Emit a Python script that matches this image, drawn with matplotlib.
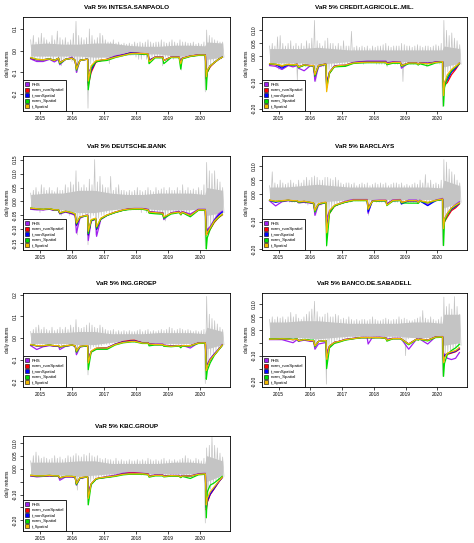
import numpy as np
import matplotlib
matplotlib.use("Agg")
import matplotlib.pyplot as plt
from matplotlib.patches import Patch

plt.rcParams['font.family'] = ['Liberation Sans', 'DejaVu Sans']

# ---------------- data ----------------
first_month = 2014.71          # decimal year of first monthly block
n_months = 73
years = [2015, 2016, 2017, 2018, 2019, 2020]
models = ["FHS", "norm_nonSpatial", "t_nonSpatial", "norm_Spatial", "t_Spatial"]
core_dates = [2014.71, 2015.21, 2015.71, 2016.21, 2016.71, 2017.21, 2017.71, 2018.21,
              2018.71, 2019.21, 2019.71, 2020.15, 2020.21, 2020.71]

# knots (decimal years) of the VaR series
var_dates = [2014.71, 2014.9, 2015.1, 2015.3, 2015.45, 2015.58, 2015.62, 2015.8, 2016.0, 2016.1,
             2016.14, 2016.25, 2016.45, 2016.49, 2016.51, 2016.6, 2016.74, 2016.77, 2016.9, 2017.1,
             2017.35, 2017.6, 2017.79, 2017.82, 2017.95, 2018.2, 2018.38, 2018.41, 2018.6, 2018.84,
             2018.87, 2019.1, 2019.35, 2019.4, 2019.45, 2019.7, 2019.95, 2020.17, 2020.2, 2020.23,
             2020.32, 2020.45, 2020.58, 2020.7]

# ---- INTESA.SANPAOLO (percent) ----
intesa_core_up = [3, 3.5, 3, 3, 3.5, 3.5, 2.5, 2, 2, 2.5, 2.5, 2.2, 4, 3.5]
intesa_core_lo = [-2.5, -2.5, -2.5, -2.5, -3, -3, -2, -1.5, -1.5, -2.5, -2.5, -2, -4, -3]
intesa_hi = [5,7,4,6,8,6, 5,4,7,5,9,6, 5,6,4,5,8,13.5, 7,6,5,6,10,7, 5,6,8,7,5,4, 4,5,3.5,4,3,3.5,
             3,3.5,3,4,3.5,4, 3.5,4,5,4,3.5,4, 4,5,4,3.5,4,5, 4,3.5,5,4,4,3.5, 3.5,4,3,3.5,3,4,
             9.5,7,6,5,4.5,4,4]
intesa_lo = [-3,-4,-3,-5,-4,-3, -3,-4,-5,-3,-6,-7, -4,-3,-3,-5,-6,-10, -5,-4,-4,-26.5,-6,-5,
             -5,-4,-4,-3,-3,-6, -3,-3,-2.5,-2.5,-2.5,-2, -2,-2,-2,-3,-4,-4, -2.5,-4,-6,-3,-3,-3,
             -3.5,-7,-3,-3,-3,-4, -3,-3,-9,-3,-3,-2.5, -2.5,-2.5,-2,-2,-2,-19, -8,-6,-5,-4,-3.5,-3,-3]
intesa_fhs = [-3.8,-5.0,-5.0,-4.0,-5.2,-4.0,-6.5,-4.0,-3.0,-4.5,-10,-4.5,-4.0,-4.0,-10,-8,-5,-5,-4.5,-4.0,
              -2.5,-1.8,-1.2,-1.1,-1.0,-1.3,-1.5,-4.5,-3.0,-3.0,-4.5,-3.0,-3.0,-5.5,-3.5,-2.5,-2.0,-2.0,
              -10,-9,-7,-5.5,-4.0,-3.0]
intesa_nns = [-3.5,-4.2,-4.2,-3.8,-4.5,-3.5,-5.5,-4.0,-3.5,-4.5,-8,-4.5,-4.0,-4.0,-16,-10,-5.5,-5.2,-4.6,-4.0,
              -2.8,-2.0,-1.2,-1.1,-1.0,-1.5,-1.7,-4.5,-3.0,-3.0,-4.5,-3.0,-3.0,-5.5,-3.5,-2.5,-2.0,-2.0,
              -13,-10,-7.5,-5.5,-4.0,-3.0]
intesa_tns = [-3.4,-4.2,-4.2,-3.8,-4.5,-3.5,-5.5,-4.0,-3.5,-4.5,-8,-4.5,-4.0,-4.0,-15,-9,-5.2,-5.0,-4.5,-4.0,
              -2.8,-2.0,-1.2,-1.1,-1.0,-1.5,-1.7,-4.5,-3.0,-3.0,-4.5,-3.0,-3.0,-5.5,-3.5,-2.5,-2.0,-2.0,
              -12,-9.5,-7,-5.5,-4.0,-3.0]
intesa_nsp = [-3.2,-4.0,-4.2,-3.8,-4.5,-3.5,-6,-4.0,-3.5,-4.5,-9,-4.5,-4.0,-4.0,-18,-8,-5.2,-5,-4.8,-4.5,
              -3.2,-2.3,-1.6,-1.5,-1.4,-1.6,-1.8,-6.0,-3.3,-3.3,-6,-3.2,-3.2,-8.5,-3.8,-2.7,-2.2,-2.2,
              -18,-10,-7,-5.5,-4.0,-3.0]
intesa_tsp = [-3.2,-4.0,-4.2,-3.8,-4.5,-3.5,-5.5,-4.0,-3.5,-4.5,-8.5,-4.5,-4.0,-4.0,-14,-7,-4.8,-4.6,-4.3,-4.0,
              -3.0,-2.2,-1.5,-1.4,-1.2,-1.3,-1.5,-5.0,-3.0,-3.0,-4.5,-3.0,-3.0,-6.0,-3.5,-2.5,-2.0,-2.0,
              -12,-9,-7,-5.5,-4.0,-3.0]

# ---- CREDIT.AGRICOLE..MIL. ----
credit_core_up = [3, 3, 3, 3.5, 3, 2.5, 2.5, 2.5, 2.5, 2.5, 2.5, 2.5, 4, 3]
credit_core_lo = [-2.5, -2.5, -2.5, -3, -2.5, -2, -2, -2, -2, -2, -2, -2, -4, -2.5]
credit_hi = [4,5,4,7.5,8,5, 4,5,6,4,5,4, 5,4,6,5,7,13.8, 6,5,4,6,7,5, 5,4,5,4,6,4, 4,9.6,3.5,4,3.5,4,
             3.5,4,3,4,3.5,4, 4,4.5,5,4,3.5,4, 4,4,5,4.5,4,4, 3.5,4,4.5,4,3.5,4, 4,3.5,4,4.5,4,5,
             13.8,10,8,9,7,6,4.5]
credit_lo = [-3,-3,-4,-5,-3,-3, -3,-3,-4,-3,-9,-4, -4,-4,-3,-3,-5,-9.6, -5,-4,-4,-13.5,-5,-4,
             -4,-3,-3,-3,-3,-3, -3,-2.5,-2.5,-2.5,-2.5,-3, -2.5,-2.5,-2.5,-2.5,-3,-3, -3,-3,-4,-3,-2.5,-3,
             -3,-3,-9.6,-3.5,-3,-3, -3,-3,-3,-3,-3,-4, -3,-3,-2.5,-2.5,-3,-19.2, -8,-6,-5,-5,-4,-3.5,-3]
credit_fhs = [-3.5,-3.8,-5.0,-3.5,-4.0,-3.5,-4.5,-5.5,-3.5,-4,-9.5,-4,-3.2,-3.2,-10,-6,-3.8,-3.6,-3.4,-3.3,
              -2.3,-2.0,-1.8,-1.8,-1.8,-1.8,-1.8,-2.5,-2.0,-2.2,-4.5,-2.5,-2.5,-3,-2.5,-2.5,-2.2,-2.0,
              -11,-10,-8,-5.5,-4.0,-2.5]
credit_nns = [-3.0,-3.2,-3.8,-3.2,-3.3,-3.0,-4.0,-3.3,-3.5,-3.5,-7.5,-3.5,-3.0,-3.0,-11,-6.5,-4.0,-3.8,-3.6,-3.5,
              -2.4,-2.2,-2.1,-2.1,-2.1,-2.1,-2.1,-2.7,-2.3,-2.3,-3.5,-2.5,-2.5,-3,-2.5,-2.7,-2.2,-2.0,
              -12,-11,-10,-7,-5,-2.8]
credit_tns = [-2.9,-3.1,-4.5,-3.1,-3.2,-3.0,-4.0,-3.2,-3.5,-3.5,-7.5,-3.5,-3.0,-3.0,-11,-6,-4.0,-3.8,-3.6,-3.5,
              -2.4,-2.2,-2.1,-2.1,-2.1,-2.1,-2.1,-2.7,-2.3,-2.3,-3.5,-2.5,-2.5,-3,-2.5,-2.7,-2.2,-2.0,
              -12,-10.5,-9,-6,-4.5,-2.6]
credit_nsp = [-2.8,-3.0,-3.6,-3.1,-3.4,-3.1,-4.3,-3.4,-3.6,-3.6,-7.5,-3.6,-3.1,-3.1,-12,-6.5,-4.2,-4.0,-3.9,-3.8,
              -2.7,-2.5,-2.4,-2.4,-2.4,-2.4,-2.4,-3.2,-2.6,-2.6,-3.8,-2.8,-2.8,-3.3,-2.8,-3.6,-2.5,-2.2,
              -19,-12,-8,-5.5,-4.0,-2.8]
credit_tsp = [-2.8,-3.0,-3.5,-3.0,-3.2,-3.0,-4.0,-3.2,-3.5,-3.5,-7.0,-3.5,-3.0,-3.0,-13.5,-6.0,-4.0,-3.8,-3.5,-3.3,
              -2.5,-2.3,-2.2,-2.2,-2.2,-2.2,-2.2,-2.8,-2.3,-2.3,-3.5,-2.5,-2.5,-3,-2.5,-2.8,-2.3,-2.0,
              -15,-10,-7,-5,-3.8,-2.5]

# ---- DEUTSCHE.BANK ----
deutsche_core_up = [2.5, 3, 3, 4, 4, 3, 2.5, 2.5, 3, 3, 3, 2.5, 5, 4]
deutsche_core_lo = [-2, -2.5, -3, -4, -4, -3, -2.5, -2.5, -3, -3, -3, -2.5, -5, -4]
deutsche_hi = [3,4,5,3.5,6,5, 4,5,4,3.5,5,4, 4,6,5,7,6,11, 7,5,6,5,8,6, 15,7,9,6,5,5, 9,4,5,6,4,4,
               3.5,4,3.5,4,5,4, 3.5,4,5,4,3.5,5, 4,4.5,5,4,5,4, 4,5,4,6,4,5, 4,4.5,4,5,4,6,
               14,11,10,11,8,7,5]
deutsche_lo = [-2.5,-3,-3,-4,-3,-3, -3,-3,-3,-3,-4,-5, -4,-4,-5,-4,-5,-12, -6,-5,-5,-15.5,-6,-5,
               -12,-6,-5,-5,-4,-4, -4,-3,-3,-3,-3,-3, -2.5,-3,-3,-3,-3,-4, -3,-4,-4,-4,-4,-4,
               -4,-5,-7,-5,-4,-4, -4,-4,-5,-4,-5,-5, -3,-3,-3,-3,-3,-16, -10,-9,-8,-6,-5,-4,-4]
deutsche_fhs = [-2.8,-3.0,-3.0,-2.8,-3.2,-3.2,-4.5,-3.8,-4.5,-5,-11.3,-6,-5.0,-5.0,-14,-7,-6.5,-12.5,-6.5,-5,
                -3.8,-3.0,-2.6,-2.6,-2.5,-2.5,-2.8,-3.6,-3.8,-4.0,-6.5,-4.0,-3.5,-4.2,-3.6,-4.5,-2.8,-2.8,
                -11,-10,-9,-6.5,-4.5,-3.5]
deutsche_nns = [-2.5,-2.7,-2.9,-2.7,-3.1,-3.1,-4.2,-3.6,-4.2,-4.6,-8.5,-5.6,-5.0,-5.0,-12,-6.8,-6.2,-10,-6.2,-4.9,
                -3.9,-3.1,-2.7,-2.7,-2.6,-2.6,-3.0,-3.8,-4.0,-4.2,-5.8,-4.2,-3.8,-4.5,-3.8,-5.0,-3.0,-3.0,
                -12,-11.5,-10,-7.5,-5.8,-4.8]
deutsche_tns = [-2.5,-2.7,-2.9,-2.7,-3.1,-3.1,-4.2,-3.6,-4.2,-4.6,-8.5,-5.6,-5.0,-5.0,-12,-6.8,-6.2,-10,-6.2,-4.9,
                -3.9,-3.1,-2.7,-2.7,-2.6,-2.6,-3.0,-3.8,-4.0,-4.2,-5.8,-4.2,-3.8,-4.5,-3.8,-5.0,-3.0,-3.0,
                -11.5,-10.5,-9.5,-6.8,-5.0,-3.8]
deutsche_nsp = [-2.4,-2.6,-2.8,-2.6,-3.0,-3.0,-4.2,-3.5,-4.0,-4.5,-8,-5.6,-5.2,-5.2,-11.5,-6.8,-6.2,-9.5,-6.3,-5.0,
                -4.0,-3.2,-2.9,-2.9,-2.8,-2.8,-3.2,-4.2,-4.4,-4.6,-6.0,-4.5,-4.0,-4.8,-4.0,-5.5,-3.2,-3.2,
                -17,-13,-10,-7.2,-5.8,-4.6]
deutsche_tsp = [-2.4,-2.6,-2.8,-2.6,-3.0,-3.0,-4.0,-3.5,-4.0,-4.5,-7.7,-5.5,-5.0,-5.0,-10.7,-6.5,-6.0,-9.0,-6.0,-4.8,
                -3.8,-3.0,-2.7,-2.7,-2.6,-2.6,-3.0,-3.8,-4.0,-4.2,-5.5,-4.2,-3.8,-4.5,-3.8,-5.0,-3.0,-3.0,
                -12,-11,-9.5,-7,-5.5,-4.5]

# ---- BARCLAYS ----
barclays_core_up = [2.5, 2.5, 3, 3.5, 3, 2.5, 2.5, 2.5, 2.5, 2.5, 2.5, 2.2, 5, 3]
barclays_core_lo = [-2, -2, -2.5, -3, -2.5, -2, -2, -2, -2, -2, -2, -2, -5, -3]
barclays_hi = [3,8,4,3.5,5,4, 3.5,4,5,4,3.5,5, 4,5,6,5,6,6.5, 6,5,5,6,6,5.5, 5,6,5,4,3.5,4, 4,3.5,4,3,3.5,4,
               3.5,4,3,3.5,4,3.5, 4,3.5,4,3,3.5,4, 4,3.5,4,3,3.5,3, 3.5,4,3.5,5,4,7, 4,5,3.5,4,3.5,5,
               12.4,11.5,9,8,7,5,4]
barclays_lo = [-2.5,-3,-3,-3,-3,-2.5, -2.5,-3,-3,-3,-3,-3.5, -3,-3.5,-4,-3.5,-4,-7.7, -4,-4,-3.5,-19,-6,-5,
               -4,-4,-3.5,-3,-3,-3, -3,-2.5,-2.5,-2.5,-2.5,-2.5, -2.5,-7.7,-3,-2.5,-3,-3, -3,-3,-4,-3,-3,-3,
               -3,-3,-3.5,-3,-3,-3, -3,-3,-3.5,-3,-3,-4, -3,-3,-3,-2.5,-2.5,-18.6, -10,-7,-6,-5,-4,-3.5,-3]
barclays_fhs = [-2.5,-4.3,-2.8,-2.4,-2.6,-2.6,-3.2,-3.0,-3.3,-3.5,-7.7,-4,-3.2,-3.2,-9,-6,-4.5,-4.2,-3.5,-2.6,
                -2.0,-2.0,-2.0,-7,-2.4,-2.2,-2.2,-3.5,-2.1,-2.0,-3.5,-2.2,-2.2,-2.8,-2.2,-4.0,-2.2,-1.6,
                -9,-9,-7,-5,-3.8,-2.8]
barclays_nns = [-2.3,-2.7,-2.5,-2.3,-2.5,-2.5,-2.9,-2.7,-3.1,-3.3,-6,-3.6,-3.1,-3.1,-12,-7,-4.6,-4.3,-3.7,-2.9,
                -2.3,-2.3,-2.3,-5,-2.6,-2.4,-2.4,-3.8,-2.4,-2.3,-3.0,-2.5,-2.5,-3.0,-2.5,-3.2,-2.4,-1.9,
                -12,-10,-8.3,-6,-5,-3.6]
barclays_tns = [-2.3,-3.0,-2.5,-2.3,-2.5,-2.5,-2.9,-2.7,-3.1,-3.3,-6,-3.6,-3.1,-3.1,-12,-6.5,-4.5,-4.2,-3.6,-2.9,
                -2.3,-2.3,-2.3,-6.5,-2.6,-2.4,-2.4,-3.8,-2.4,-2.3,-3.6,-2.5,-2.5,-3.0,-2.5,-4.2,-2.4,-1.9,
                -11,-9.5,-7.5,-5.5,-4.5,-3.4]
barclays_nsp = [-2.3,-2.7,-2.5,-2.3,-2.5,-2.5,-3.0,-2.7,-3.1,-3.3,-6.5,-3.7,-3.2,-3.2,-18.6,-7,-4.6,-4.3,-3.7,-3.0,
                -2.4,-2.4,-2.4,-5.5,-2.7,-2.5,-2.5,-4.2,-2.5,-2.4,-3.2,-3.3,-3.3,-3.4,-2.6,-3.2,-2.4,-2.0,
                -18.6,-10,-7.5,-5.2,-4.2,-3.3]
barclays_tsp = [-2.2,-2.6,-2.4,-2.2,-2.4,-2.4,-2.8,-2.6,-3.0,-3.2,-5.9,-3.5,-3.0,-3.0,-14,-6,-4.3,-4.0,-3.5,-2.8,
                -2.2,-2.2,-2.2,-5.5,-2.6,-2.3,-2.3,-4.0,-2.3,-2.2,-3.0,-2.4,-2.4,-3.0,-2.4,-3.0,-2.3,-1.8,
                -12.5,-9,-7,-5,-4,-3.2]

# ---- ING.GROEP ----
ing_core_up = [2.5, 2.5, 2.5, 3, 3, 2, 2, 2, 2.5, 2.5, 2.5, 2, 5, 3]
ing_core_lo = [-2.5, -2.5, -2.5, -3, -3, -2, -1.5, -2, -2.5, -2.5, -2.5, -2, -5, -3]
ing_hi = [3,4,5,6,4,5, 4,3.5,5,3.5,4,5, 4,5,4,6,5,8.5, 5,4.5,5,6,7,6, 5,4.5,6,5,4,3.5, 3.5,4,3,3.5,3,3.5,
          3,3.5,3,3,3.5,4, 3,3.5,4,3,3.5,3, 3.5,4,3.5,4,5,4.5, 3.5,4,4.5,4,3.5,4, 3.5,3,3.5,3,3.5,4,
          19.2,11,9,8,6.5,5,4]
ing_lo = [-2.5,-3,-3,-3,-3,-3, -3,-3,-3,-3,-4,-4, -3,-3,-3,-3,-4,-7, -4,-4,-4,-17,-5,-4,
          -4,-4,-3.5,-3,-3,-3, -2.5,-2.5,-2,-2,-2,-2, -2,-2,-2,-2,-2,-2.5, -2.5,-2.5,-3,-2.5,-2.5,-3,
          -3,-3,-3,-3,-3.5,-3, -3,-3,-3,-3.5,-3,-3, -2.5,-2.5,-2.5,-2.5,-2.5,-21, -12,-8,-7,-6,-5,-4,-3]
ing_fhs = [-3.5,-5.3,-4.0,-3.5,-3.8,-3.8,-5.3,-3.8,-3.3,-3.8,-7.7,-4.2,-3.6,-3.6,-8.5,-6.5,-5,-4.8,-4.6,-4.4,
           -2.8,-1.8,-1.5,-1.4,-1.3,-2.2,-2.2,-2.6,-2.8,-2.8,-3.2,-3.6,-3.4,-3.6,-3.4,-4.6,-2.2,-2.1,
           -12,-12,-9.5,-7.2,-5.2,-3.0]
ing_nns = [-3.1,-3.6,-3.6,-3.3,-3.6,-3.6,-4.1,-3.6,-3.3,-3.6,-6.2,-3.9,-3.6,-3.6,-11,-6.3,-5,-4.8,-4.7,-4.6,
           -2.9,-1.6,-1.2,-1.1,-1.0,-2.2,-2.3,-2.8,-3.0,-3.0,-3.4,-3.8,-3.5,-3.8,-3.5,-3.5,-2.3,-2.2,
           -14.6,-13,-10,-7.8,-5.5,-3.3]
ing_tns = [-3.1,-3.6,-3.6,-3.3,-3.6,-3.6,-4.1,-3.6,-3.3,-3.6,-6.2,-3.9,-3.6,-3.6,-11,-6.3,-5,-4.8,-4.7,-4.6,
           -2.9,-1.8,-1.5,-1.4,-1.3,-2.2,-2.3,-2.8,-3.0,-3.0,-3.4,-3.8,-3.5,-3.8,-3.5,-3.5,-2.3,-2.2,
           -14,-12.5,-10,-7.5,-5.3,-3.2]
ing_nsp = [-3.0,-3.5,-3.5,-3.2,-3.5,-3.5,-4.2,-3.6,-3.3,-3.6,-6.5,-4,-3.6,-3.6,-14.6,-6.5,-5.4,-5.2,-5.2,-5.2,
           -3.2,-2.2,-1.9,-1.8,-1.7,-2.5,-2.5,-3.6,-3.2,-3.2,-3.8,-4.0,-3.7,-4.5,-3.7,-3.7,-2.5,-2.4,
           -19,-15,-11.5,-8,-5.6,-3.4]
ing_tsp = [-3.0,-3.5,-3.5,-3.2,-3.5,-3.5,-4.0,-3.5,-3.2,-3.5,-6.0,-3.8,-3.5,-3.5,-11.5,-6,-4.8,-4.6,-4.6,-4.6,
           -3.0,-2.0,-1.7,-1.6,-1.5,-2.3,-2.3,-2.8,-3.0,-3.0,-3.4,-3.8,-3.5,-3.8,-3.5,-3.5,-2.3,-2.2,
           -15,-13,-10,-7.7,-5.4,-3.2]

# ---- BANCO.DE.SABADELL ----
sabadell_core_up = [3, 3, 3.5, 3.5, 3, 2.5, 2.5, 2.5, 2.5, 3, 3, 2.5, 6, 6]
sabadell_core_lo = [-3, -3, -3, -3.5, -3, -2.5, -2.5, -2.5, -2.5, -3, -3, -2.5, -6, -5]
sabadell_hi = [4,5,4,5,4.5,5, 4,5,6.7,5,6,4.5, 4,5,6,7,8,11, 7,5,5,6,6.5,5, 5,6,5.5,4,4.5,4, 5,4,3.5,4,3.5,4,
               4,3.5,4,5,4,3.5, 3.5,4,4.5,4,3.5,4, 4,5,4,4.5,4,3.5, 3.5,4,4.5,5,7.4,4.5, 4,5,4,3.5,4,5,
               12.6,9,10,8,12.8,9,6]
sabadell_lo = [-3,-3,-3,-3.5,-3,-3, -3,-3.5,-3.5,-3,-3,-4, -4,-3.5,-4,-3.5,-4,-7.5, -4.5,-4,-4,-21,-6,-5,
               -4.5,-4,-4,-3.5,-3.5,-3, -3,-3,-3,-3,-3,-3, -3,-3,-3,-3.5,-3,-3, -3,-3,-3.5,-3,-3,-3,
               -3,-3.5,-4,-10,-3.5,-3, -3,-3,-3,-3.5,-4,-3.5, -3,-3,-2.5,-2.5,-2.5,-18, -10,-9,-9,-8,-7,-7,-6]
sabadell_fhs = [-3.8,-3.8,-3.8,-4.5,-5.0,-3.8,-4.5,-4.0,-4.5,-4.5,-7.5,-5.5,-5.0,-5.0,-8.5,-6.5,-5.2,-5.0,-4.5,-3.7,
                -3.3,-3.0,-3.0,-5.5,-3.0,-2.9,-3.0,-3.6,-3.3,-3.3,-3.6,-7.5,-3.6,-3.6,-3.6,-5.5,-2.7,-2.6,
                -9,-9.5,-11,-11.5,-11,-8.8]
sabadell_nns = [-3.6,-3.6,-3.5,-3.6,-3.8,-3.6,-4.2,-3.8,-4.2,-4.2,-6.3,-4.5,-4.2,-4.2,-11,-6.3,-5.0,-4.8,-4.5,-3.8,
                -3.4,-3.0,-3.0,-3.0,-3.0,-3.0,-3.2,-4.0,-3.4,-3.4,-3.6,-5.5,-3.6,-3.8,-3.6,-4.0,-2.8,-2.7,
                -12,-10.5,-9.5,-9,-8.5,-7.5]
sabadell_tns = [-3.6,-3.6,-3.5,-3.6,-3.8,-3.6,-4.2,-3.8,-4.2,-4.2,-6.3,-4.5,-4.2,-4.2,-11,-6.3,-5.0,-4.8,-4.5,-3.8,
                -3.4,-3.0,-3.0,-3.0,-3.0,-3.0,-3.2,-4.0,-3.4,-3.4,-3.6,-5.5,-3.6,-3.8,-3.6,-4.0,-2.8,-2.7,
                -11.5,-10,-9.2,-8.8,-8.3,-7.2]
sabadell_nsp = [-3.5,-3.5,-3.4,-3.5,-3.7,-3.5,-4.3,-3.7,-4.0,-4.0,-6.5,-4.5,-4.3,-4.3,-15,-7,-5.4,-5.2,-4.8,-4.0,
                -3.5,-3.1,-3.1,-3.1,-3.1,-3.1,-3.3,-4.4,-3.5,-3.5,-3.7,-5.8,-3.7,-4.0,-3.7,-4.3,-3.0,-2.9,
                -18,-13,-9.5,-8,-7,-5.6]
sabadell_tsp = [-3.6,-3.6,-3.5,-3.6,-3.8,-3.6,-4.2,-3.8,-4.2,-4.2,-6.2,-4.5,-4.2,-4.2,-11.4,-6.2,-5.0,-4.8,-4.5,-3.8,
                -3.4,-3.0,-3.0,-3.0,-3.0,-3.0,-3.2,-4.0,-3.4,-3.4,-3.6,-5.5,-3.6,-3.8,-3.6,-4.0,-2.8,-2.7,
                -12.7,-10.8,-9,-8.5,-8,-6.9]

# ---- KBC.GROUP ----
kbc_core_up = [2.5, 2.5, 2.5, 3, 3, 2, 2, 2, 2, 2.5, 2.5, 2, 5, 3]
kbc_core_lo = [-2.5, -2.5, -2.5, -3, -2.5, -2, -1.5, -2, -2, -2, -2, -2, -5, -2.5]
kbc_hi = [3,5,6.4,5,4,4.5, 4,3.5,4,5,4,4.5, 3.5,4,5,4.5,5,5.8, 5,4.5,5.5,5,6,5, 4.5,5,4,3.5,4,3.5, 3.5,3,4,3,3.5,3,
          3,3.5,3,3,3.5,3, 3.5,3,4,3.5,3,3.5, 3,3.5,4,3,3.5,3, 3.5,3,3.5,4,5,4, 3.5,3,4,3.5,3,4,
          8,9,12.2,9,8,6,4.5]
kbc_lo = [-2.5,-3,-3,-2.5,-3,-3, -3,-3,-3,-3,-3,-3.5, -3,-3,-3,-3,-3.5,-8.3, -4,-4,-3.5,-14,-5,-4,
          -3.5,-3.5,-3,-3,-3,-3, -2.5,-2.5,-2.5,-2,-2,-2, -2,-2,-2,-2,-2,-2.5, -2.5,-2.5,-3,-2.5,-2.5,-2.5,
          -2.5,-3,-2.5,-3,-3,-2.5, -2.5,-3,-2.5,-3,-3,-2.5, -2.5,-2.5,-2,-2,-2,-21, -12,-8,-6,-5,-4,-3.5,-3]
kbc_fhs = [-2.8,-3.2,-3.0,-2.8,-3.0,-3.0,-4.5,-3.2,-3.2,-3.5,-6.4,-3.8,-3.3,-3.3,-8.5,-6,-4.2,-3.9,-3.5,-3.0,
           -2.5,-1.8,-1.6,-1.6,-1.6,-1.8,-2.0,-2.8,-2.4,-2.4,-2.8,-2.6,-2.6,-3.0,-2.6,-2.8,-2.0,-1.8,
           -13,-12.8,-10,-7.7,-5.2,-3.3]
kbc_nns = [-2.7,-2.9,-2.9,-2.7,-2.9,-2.9,-3.6,-3.1,-3.1,-3.3,-6,-3.6,-3.3,-3.3,-11,-6,-4.1,-3.9,-3.6,-3.3,
           -2.8,-2.0,-1.7,-1.7,-1.7,-1.9,-2.1,-3.0,-2.6,-2.6,-3.0,-2.7,-2.8,-3.2,-2.8,-2.9,-2.2,-2.0,
           -16,-13,-10,-7.7,-5.3,-3.4]
kbc_tns = [-2.7,-2.9,-2.9,-2.7,-2.9,-2.9,-3.6,-3.1,-3.1,-3.3,-6,-3.6,-3.3,-3.3,-11,-6,-4.1,-3.9,-3.6,-3.3,
           -2.8,-2.1,-1.9,-1.9,-1.9,-2.0,-2.2,-3.0,-2.6,-2.6,-3.0,-2.7,-2.8,-3.2,-2.8,-2.9,-2.2,-2.0,
           -15,-12.5,-9.8,-7.5,-5.2,-3.4]
kbc_nsp = [-2.6,-2.8,-2.8,-2.6,-2.8,-2.8,-3.6,-3.0,-3.0,-3.2,-6.2,-3.6,-3.3,-3.3,-14,-6.2,-4.3,-4.0,-3.7,-3.4,
           -3.0,-2.4,-2.2,-2.2,-2.2,-2.2,-2.4,-3.3,-2.8,-2.8,-3.2,-2.9,-3.0,-3.5,-3.0,-3.8,-2.4,-2.2,
           -19,-9,-6.4,-5.5,-4.2,-3.0]
kbc_tsp = [-2.6,-2.8,-2.8,-2.6,-2.8,-2.8,-3.5,-3.0,-3.0,-3.2,-5.8,-3.5,-3.2,-3.2,-11.5,-5.8,-4.0,-3.8,-3.5,-3.2,
           -2.8,-2.2,-2.0,-2.0,-2.0,-2.0,-2.2,-3.0,-2.6,-2.6,-3.0,-2.7,-2.8,-3.2,-2.8,-2.9,-2.2,-2.0,
           -14,-11.5,-9,-7,-5,-3.3]

panels = [
    ("INTESA.SANPAOLO", intesa_core_up, intesa_core_lo, intesa_hi, intesa_lo,
     [intesa_fhs, intesa_nns, intesa_tns, intesa_nsp, intesa_tsp]),
    ("CREDIT.AGRICOLE..MIL.", credit_core_up, credit_core_lo, credit_hi, credit_lo,
     [credit_fhs, credit_nns, credit_tns, credit_nsp, credit_tsp]),
    ("DEUTSCHE.BANK", deutsche_core_up, deutsche_core_lo, deutsche_hi, deutsche_lo,
     [deutsche_fhs, deutsche_nns, deutsche_tns, deutsche_nsp, deutsche_tsp]),
    ("BARCLAYS", barclays_core_up, barclays_core_lo, barclays_hi, barclays_lo,
     [barclays_fhs, barclays_nns, barclays_tns, barclays_nsp, barclays_tsp]),
    ("ING.GROEP", ing_core_up, ing_core_lo, ing_hi, ing_lo,
     [ing_fhs, ing_nns, ing_tns, ing_nsp, ing_tsp]),
    ("BANCO.DE.SABADELL", sabadell_core_up, sabadell_core_lo, sabadell_hi, sabadell_lo,
     [sabadell_fhs, sabadell_nns, sabadell_tns, sabadell_nsp, sabadell_tsp]),
    ("KBC.GROUP", kbc_core_up, kbc_core_lo, kbc_hi, kbc_lo,
     [kbc_fhs, kbc_nns, kbc_tns, kbc_nsp, kbc_tsp]),
]

# ---------------- layout / style ----------------
ylims = [(-0.278, 0.155), (-0.209, 0.151), (-0.174, 0.163), (-0.202, 0.137),
         (-0.226, 0.208), (-0.221, 0.142), (-0.241, 0.126)]
yticks_fine = [-0.20, -0.15, -0.10, -0.05, 0.00, 0.05, 0.10]
labels_fine = ["-0.20", "", "-0.10", "", "0.00", "0.05", "0.10"]
yticks_spec = [
    ([-0.2, -0.1, 0.0, 0.1], ["-0.2", "-0.1", "0.0", "0.1"]),
    (yticks_fine, labels_fine),
    ([-0.15, -0.10, -0.05, 0.00, 0.05, 0.10, 0.15],
     ["-0.15", "-0.10", "-0.05", "0.00", "0.05", "0.10", "0.15"]),
    (yticks_fine, labels_fine),
    ([-0.2, -0.1, 0.0, 0.1, 0.2], ["-0.2", "-0.1", "0.0", "0.1", "0.2"]),
    (yticks_fine, labels_fine),
    (yticks_fine, labels_fine),
]
colors = ["#A020F0", "#FF0000", "#0000FF", "#00DD00", "#F2B800"]
gray = "#C4C4C4"
W, H = 474, 543
col_x = [(23, 230), (262, 467)]
row_y = [(17, 111), (156, 250), (293, 387), (436, 531)]

fig = plt.figure(figsize=(W / 100, H / 100), dpi=100)

month_x = first_month + np.arange(n_months) / 12.0

for i, (name, cup, clo, hi, lo, var_series) in enumerate(panels):
    r, c = divmod(i, 2)
    x0, x1 = col_x[c]
    y0, y1 = row_y[r]
    ax = fig.add_axes([x0 / W, 1 - y1 / H, (x1 - x0) / W, (y1 - y0) / H])

    # daily returns: dense core band plus monthly highs / lows
    ax.fill_between(core_dates, np.array(clo) / 100.0, np.array(cup) / 100.0,
                    color=gray, lw=0, zorder=1)
    gx = np.empty(2 * n_months)
    gy = np.empty(2 * n_months)
    gx[0::2] = month_x
    gx[1::2] = month_x + 1 / 24.0
    gy[0::2] = np.array(hi) / 100.0
    gy[1::2] = np.array(lo) / 100.0
    ax.plot(gx, gy, color=gray, lw=0.5, zorder=1)

    for vals, col in zip(var_series, colors):
        ax.plot(var_dates, np.array(vals) / 100.0, color=col, lw=0.9, zorder=2)

    ax.set_xlim(2014.47, 2020.94)
    ax.set_ylim(*ylims[i])
    ax.set_xticks(years)
    ax.set_xticklabels([str(y) for y in years])
    ticks, labels = yticks_spec[i]
    ax.set_yticks(ticks)
    ax.set_yticklabels(labels, rotation=90, va="center")
    ax.tick_params(axis="both", labelsize=3.5, length=2, width=0.5, pad=1.5, direction="out")
    for sp in ax.spines.values():
        sp.set_linewidth(0.6)
    ax.set_ylabel("daily returns", fontsize=3.4, labelpad=2)
    ax.set_title("VaR 5% " + name, fontsize=4.6, fontweight="bold", pad=6)

    handles = [Patch(facecolor=col, edgecolor="black", linewidth=0.4) for col in colors]
    leg = ax.legend(handles, models, loc="lower left", fontsize=3.2, frameon=True,
                    fancybox=False, framealpha=1, edgecolor="black", borderaxespad=0,
                    handlelength=0.9, handleheight=0.9, handletextpad=0.5,
                    labelspacing=0.25, borderpad=0.5)
    leg.get_frame().set_linewidth(0.6)
    leg.set_zorder(5)

fig.savefig("out.png", dpi=100)
